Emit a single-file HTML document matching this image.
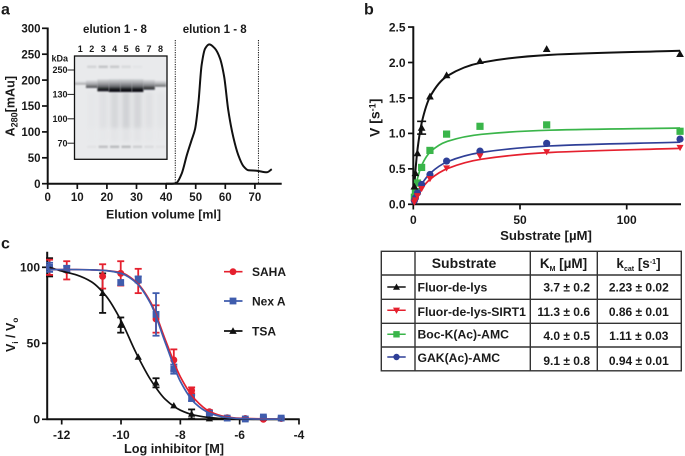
<!DOCTYPE html>
<html lang="en">
<head>
<meta charset="utf-8">
<title>Enzyme purification and kinetics figure</title>
<style>
html,body{margin:0;padding:0;background:#fff;width:685px;height:456px;overflow:hidden}
svg{display:block;font-family:"Liberation Sans",sans-serif;font-weight:bold;fill:#1a1a1a;filter:blur(0.35px)}
</style>
</head>
<body>
<svg id="fig" xmlns="http://www.w3.org/2000/svg" width="685" height="456" viewBox="0 0 685 456">
<defs>
<filter id="b1" x="-30%" y="-60%" width="160%" height="220%"><feGaussianBlur stdDeviation="0.9"/></filter>
<filter id="b2" x="-40%" y="-30%" width="180%" height="160%"><feGaussianBlur stdDeviation="1.8"/></filter>
<linearGradient id="bandFade" x1="0" y1="0" x2="0" y2="1">
<stop offset="0" stop-color="#6a6c72" stop-opacity="0.15"/>
<stop offset="0.55" stop-color="#45474c" stop-opacity="0.75"/>
<stop offset="0.8" stop-color="#121316" stop-opacity="1"/>
<stop offset="1" stop-color="#0c0d10" stop-opacity="1"/>
</linearGradient>
</defs>
<g id="root"></g>
</svg>
<script>
// ---- panel a data ----
const aXTicks = [0,10,20,30,40,50,60,70];
const aYTicks = [0,50,100,150,200,250,300];
const chromVolume = [40,42,43,43.6,45.3,47,48.6,49.8,50.9,52,53.2,54.6,56.5,58.2,59.6,61,62.7,64.4,66.1,67.8,70.6,74,75.7];
const chromAbs = [0,0,0.5,2,20,55,84,106,155,229,261,269,261,242,207,142,90,55,34,26,25,22,28];
const fractionBounds = [43.1,71.2];
const gelLanes = ['1','2','3','4','5','6','7','8'];
const gelMain = [0.08,0.5,0.92,1,1,1,0.72,0.35];
const gelTop = [0,0.16,0.28,0.24,0.12,0.04,0,0];
const gelLow = [0,0.05,0.3,0.34,0.34,0.2,0.1,0.05];
const gelSmear = [0,0.03,0.1,0.2,0.26,0.22,0.1,0.05];
const gelMarkers = ['250','130','100','70'];
// ---- panel b data ----
const bXTicks = [0,50,100];
const bYTicks = [0,0.5,1,1.5,2,2.5];
const substrateConc = [0.49,0.98,1.95,3.9,7.8,15.6,31.25,62.5,125];
const vBlack = [0.25,0.44,0.72,1.08,1.52,1.82,2.02,2.19,2.12];
const vGreen = [0.1,0.18,0.3,0.52,0.76,0.99,1.1,1.12,1.03];
const vBlue = [0.05,0.09,0.16,0.28,0.42,0.61,0.75,0.86,0.92];
const vRed = [0.03,0.06,0.12,0.22,0.36,0.51,0.68,0.74,0.80];
const fitConc = [0,0.5,1,2,4,8,16,32,64,125];
const fitBlack = [0,0.265,0.474,0.782,1.158,1.525,1.811,1.999,2.108,2.166];
const fitGreen = [0,0.123,0.222,0.37,0.555,0.74,0.888,0.987,1.045,1.076];
const fitBlue = [0,0.05,0.093,0.169,0.287,0.44,0.6,0.732,0.823,0.876];
const fitRed = [0,0.04,0.07,0.129,0.225,0.356,0.504,0.636,0.731,0.789];
// ---- panel c data ----
const cXTicks = [-12,-10,-8,-6,-4];
const cYTicks = [0,50,100];
const logInhibitor = [-12.41,-11.83,-10.62,-10.01,-9.42,-8.82,-8.22,-7.62,-7.02,-6.42,-5.81,-5.2,-4.6];
const sahaValues = [100,98,94,96,91,66,39,19,5,1,0.5,0,0.5];
const sahaErrors = [5,6,8,8,8,9,7,2,1,0.5,0.5,0.5,0.5];
const nexValues = [100,99,null,90,92,69,33,14,4,0.8,0.2,1.5,0.8];
const nexErrors = [3,2,0,0,2,14,3,2,1,0.5,0.5,0.5,0.5];
const tsaValues = [100,null,83,62,41,24,9,3.5,0.5,null,null,null,null];
const tsaErrors = [6,0,13,5,0,3,0,3,0,0,0,0,0];
const curveLog = [-12.41,-12,-11.5,-11,-10.5,-10,-9.5,-9,-8.5,-8,-7.5,-7,-6.5,-6,-5,-4.6];
const sahaCurve = [98.5,98.5,98.5,98.3,97.8,96.5,90.5,77,52,28,13,5,1.8,0.7,0.2,0.1];
const nexCurve = [98.5,98.5,98.5,98.3,97.8,96,90,76,50,25,10.5,4,1.4,0.5,0.1,0.1];
const tsaCurve = [100,97.5,95,90.5,81,65,44,26,13,6,2.6,1.1,0.4,0.2,0,0];
// ---- table data ----
const tableNames = ['Fluor-de-lys','Fluor-de-lys-SIRT1','Boc-K(Ac)-AMC','GAK(Ac)-AMC'];
const tableKm = ['3.7 ± 0.2','11.3 ± 0.6','4.0 ± 0.5','9.1 ± 0.8'];
const tableKcat = ['2.23 ± 0.02','0.86 ± 0.01','1.11 ± 0.03','0.94 ± 0.01'];

const NS = 'http://www.w3.org/2000/svg';
const root = document.getElementById('root');
const RED = '#e5202e', BLUE = '#2f3f97', GREEN = '#3ab54a', CBLUE = '#3f5cad', BLK = '#111';

function el(tag, attrs, parent) {
  const e = document.createElementNS(NS, tag);
  for (const k in attrs) e.setAttribute(k, attrs[k]);
  (parent || root).appendChild(e);
  return e;
}
function group(name, parent) {
  const g = el('g', {}, parent);
  
  
  return g;
}
function text(str, x, y, size, anchor, parent, name) {
  const t = el('text', {x: x, y: y, 'font-size': size, 'text-anchor': anchor || 'start'}, parent);
  t.textContent = str;
  
  
  return t;
}
function line(x1, y1, x2, y2, stroke, w, parent) {
  return el('line', {x1: x1, y1: y1, x2: x2, y2: y2, stroke: stroke, 'stroke-width': w}, parent);
}
// monotone cubic path through pixel points
function smoothPath(pts) {
  const n = pts.length, d = [], m = [];
  for (let i = 0; i < n - 1; i++) d.push((pts[i+1][1] - pts[i][1]) / (pts[i+1][0] - pts[i][0]));
  m[0] = d[0]; m[n-1] = d[n-2];
  for (let i = 1; i < n - 1; i++) {
    if (d[i-1] * d[i] <= 0) { m[i] = 0; continue; }
    const h0 = pts[i][0] - pts[i-1][0], h1 = pts[i+1][0] - pts[i][0];
    m[i] = 3 * (h0 + h1) / ((2*h1 + h0) / d[i-1] + (h1 + 2*h0) / d[i]);
  }
  let s = 'M' + pts[0][0].toFixed(2) + ' ' + pts[0][1].toFixed(2);
  for (let i = 0; i < n - 1; i++) {
    const h = (pts[i+1][0] - pts[i][0]) / 3;
    s += 'C' + (pts[i][0] + h).toFixed(2) + ' ' + (pts[i][1] + h * m[i]).toFixed(2) + ' ' +
         (pts[i+1][0] - h).toFixed(2) + ' ' + (pts[i+1][1] - h * m[i+1]).toFixed(2) + ' ' +
         pts[i+1][0].toFixed(2) + ' ' + pts[i+1][1].toFixed(2);
  }
  return s;
}
function curve(xs, ys, fx, fy, stroke, w, parent, name) {
  const p = el('path', {d: smoothPath(xs.map((v, i) => [fx(v), fy(ys[i])])), fill: 'none', stroke: stroke, 'stroke-width': w, 'stroke-linejoin': 'round'}, parent);
  
  
  return p;
}
function marker(kind, x, y, r, fill, parent, name) {
  let m;
  if (kind === 'circle') m = el('circle', {cx: x, cy: y, r: r, fill: fill}, parent);
  else if (kind === 'square') m = el('rect', {x: x - r, y: y - r, width: 2*r, height: 2*r, fill: fill}, parent);
  else if (kind === 'up') m = el('polygon', {points: (x) + ',' + (y - r*1.1) + ' ' + (x + r*1.1) + ',' + (y + r*0.85) + ' ' + (x - r*1.1) + ',' + (y + r*0.85), fill: fill}, parent);
  else m = el('polygon', {points: (x) + ',' + (y + r*1.1) + ' ' + (x + r*1.1) + ',' + (y - r*0.85) + ' ' + (x - r*1.1) + ',' + (y - r*0.85), fill: fill}, parent);
  
  
  return m;
}
function errorBar(x, y0, y1, color, w, capW, parent) {
  const g = el('g', {}, parent);
  
  
  line(x, y0, x, y1, color, w, g);
  line(x - capW, y0, x + capW, y0, color, w, g);
  line(x - capW, y1, x + capW, y1, color, w, g);
}

// panel letters
text('a', 1, 14.5, 16, 'start', root, 'panel-label-a');
text('b', 364, 14.5, 16, 'start', root, 'panel-label-b');
text('c', 1, 248.5, 16, 'start', root, 'panel-label-c');

/* ---------- PANEL A ---------- */
const pa = group('panel-a-chromatogram');
const ax = v => 47.7 + v * 2.96;
const ay = v => 183.7 - v * 0.518;
const paAxes = group('panel-a-axes', pa);
line(47.7, 27.5, 47.7, 184.5, BLK, 2, paAxes);
line(47, 183.7, 281.7, 183.7, BLK, 2, paAxes);
aXTicks.forEach(v => {
  line(ax(v), 183.7, ax(v), 189, BLK, 1.7, paAxes);
  text(String(v), ax(v), 201, 11.5, 'middle', paAxes, 'x-tick-label');
});
aYTicks.forEach(v => {
  line(42, ay(v), 47.7, ay(v), BLK, 1.7, paAxes);
  text(String(v), 40.5, ay(v) + 4.2, 11.5, 'end', paAxes, 'y-tick-label');
});
text('Elution volume [ml]', 163.5, 218.5, 12.4, 'middle', paAxes, 'x-axis-title');
const aYT = el('text', {transform: 'translate(14.5,136.5) rotate(-90)', 'font-size': 12.6}, paAxes);


aYT.innerHTML = 'A<tspan font-size="9" dy="3">280</tspan><tspan dy="-3">[mAu]</tspan>';
text('elution 1 - 8', 115, 33, 11.5, 'middle', pa, 'gel-title');
text('elution 1 - 8', 214.7, 33, 11.5, 'middle', pa, 'peak-title');
fractionBounds.forEach(v => {
  const d = line(ax(v), 40, ax(v), 183, '#111', 1, pa);
  d.setAttribute('stroke-dasharray', '1.2 1.2');
  
  
});
curve(chromVolume, chromAbs, ax, ay, BLK, 2, pa, 'chromatogram-trace');

// gel
const gel = group('gel-image', pa);
el('rect', {x: 74.5, y: 56, width: 92.5, height: 103.3, fill: '#e9eaec'}, gel);
const laneX = i => 80.3 + i * 11.45;
const lanes = el('g', {}, gel);
gelSmear.forEach((v, i) => {
  el('rect', {x: laneX(i) - 4, y: 92, width: 8, height: 36, fill: '#8c8f95', opacity: v, filter: 'url(#b2)'}, lanes);
  el('rect', {x: laneX(i) - 4, y: 128, width: 8, height: 14, fill: '#a8abb0', opacity: v * 0.4, filter: 'url(#b2)'}, lanes);
});
gelTop.forEach((v, i) => {
  if (v > 0) el('rect', {x: laneX(i) - 4.6, y: 65.5, width: 9.2, height: 2.6, fill: '#66686c', opacity: v, filter: 'url(#b1)'}, lanes);
});
gelLow.forEach((v, i) => {
  if (v > 0) el('rect', {x: laneX(i) - 4.6, y: 145.5, width: 9.2, height: 2.6, fill: '#66686c', opacity: v, filter: 'url(#b1)'}, lanes);
});
gelMain.forEach((v, i) => {
  const h = 2.5 + v * 10.5;
  const bottom = 92 - (1 - v) * 8;
  el('rect', {x: laneX(i) - 5.8, y: bottom - h, width: 11.6, height: h, fill: 'url(#bandFade)', opacity: 0.25 + v * 0.75, filter: 'url(#b1)'}, lanes);
});
el('rect', {x: 74.5, y: 56, width: 92.5, height: 103.3, fill: 'none', stroke: '#111', 'stroke-width': 1.3}, gel);
gelLanes.forEach((s, i) => text(s, laneX(i), 52, 9, 'middle', gel, 'lane-label'));
text('kDa', 51.5, 61.7, 9, 'start', gel, 'kda-label');
gelMarkers.forEach((s, i) => {
  const y = 70 + i * 24.4;
  text(s, 67.5, y + 3.2, 9, 'end', gel, 'marker-label');
  line(67.5, y, 74, y, '#222', 1, gel);
});

/* ---------- PANEL B ---------- */
const pb = group('panel-b-kinetics');
const bx = v => 413.3 + v * 2.134;
const by = v => 204.3 - v * 70.9;
const pbAxes = group('panel-b-axes', pb);
line(413.3, 26.3, 413.3, 205, BLK, 2, pbAxes);
line(412.5, 204.3, 681, 204.3, BLK, 2, pbAxes);
bXTicks.forEach(v => {
  line(bx(v), 204.3, bx(v), 209.5, BLK, 1.7, pbAxes);
  text(String(v), bx(v), 224, 12, 'middle', pbAxes, 'x-tick-label');
});
bYTicks.forEach(v => {
  line(408, by(v), 413.3, by(v), BLK, 1.7, pbAxes);
  text(v.toFixed(1), 405.5, by(v) + 4.3, 12, 'end', pbAxes, 'y-tick-label');
});
text('Substrate [µM]', 546, 240, 13.2, 'middle', pbAxes, 'x-axis-title');
const bYT = el('text', {transform: 'translate(379.5,137) rotate(-90)', 'font-size': 14}, pbAxes);


bYT.innerHTML = 'V [s<tspan font-size="9" dy="-4">-1</tspan><tspan dy="4">]</tspan>';
curve(fitConc, fitGreen, bx, by, GREEN, 1.7, pb, 'fit-boc-k-ac-amc');
curve(fitConc, fitBlue, bx, by, BLUE, 1.7, pb, 'fit-gak-ac-amc');
curve(fitConc, fitRed, bx, by, RED, 1.7, pb, 'fit-fluor-de-lys-sirt1');
curve(fitConc, fitBlack, bx, by, BLK, 2, pb, 'fit-fluor-de-lys');
substrateConc.forEach((c, i) => {
  marker('square', bx(c), by(vGreen[i]), 3.6, GREEN, pb, 'point-boc-k-ac-amc');
});
substrateConc.forEach((c, i) => {
  marker('circle', bx(c), by(vBlue[i]), 3.6, BLUE, pb, 'point-gak-ac-amc');
});
substrateConc.forEach((c, i) => {
  marker('down', bx(c), by(vRed[i]), 3.2, RED, pb, 'point-fluor-de-lys-sirt1');
});
substrateConc.forEach((c, i) => {
  marker('up', bx(c), by(vBlack[i]), 3.5, BLK, pb, 'point-fluor-de-lys');
});
errorBar(bx(substrateConc[3]), by(vBlack[3] + 0.09), by(vBlack[3] - 0.09), BLK, 1.6, 4.5, pb);

/* ---------- TABLE ---------- */
const tb = group('kinetics-table', root);
el('rect', {x: 381.3, y: 251.3, width: 300, height: 119.5, fill: '#fff', stroke: '#333', 'stroke-width': 1.4}, tb);
[415, 530.3, 597.3].forEach(x => line(x, 251, x, 371, '#333', 1.4, tb));
[275, 299.3, 323.3, 347].forEach(y => line(381, y, 681, y, '#333', 1.4, tb));
text('Substrate', 464, 268, 14, 'middle', tb, 'table-header-substrate');
const kmH = el('text', {x: 563.5, y: 268, 'font-size': 13.5, 'text-anchor': 'middle'}, tb);


kmH.innerHTML = 'K<tspan font-size="7" dy="3">M</tspan><tspan dy="-3"> [µM]</tspan>';
const kcH = el('text', {x: 638.5, y: 268, 'font-size': 13.5, 'text-anchor': 'middle'}, tb);


kcH.innerHTML = 'k<tspan font-size="7" dy="3">cat</tspan><tspan dy="-3"> [s</tspan><tspan font-size="7" dy="-4">-1</tspan><tspan dy="4">]</tspan>';
const rowY = [291.5, 316, 340, 365];
const nameY = [291.5, 316, 338.5, 362];
const keyY = [287, 310.3, 334.3, 357];
const keyColor = [BLK, RED, GREEN, BLUE];
const keyShape = ['up', 'down', 'square', 'circle'];
tableNames.forEach((s, i) => {
  text(s, 417.5, nameY[i], 12.2, 'start', tb, 'table-substrate-name');
  text(tableKm[i], 590, rowY[i], 12, 'end', tb, 'table-km-value');
  text(tableKcat[i], 638.8, rowY[i], 12, 'middle', tb, 'table-kcat-value');
  line(387.3, keyY[i], 405.7, keyY[i], keyColor[i], 1.5, tb);
  marker(keyShape[i], 396.5, keyY[i], 3.2, keyColor[i], tb, 'table-key-marker');
});

/* ---------- PANEL C ---------- */
const pc = group('panel-c-inhibition');
const cx = v => 61.7 + (v + 12) * 29.66;
const cy = v => 419.3 - v * 1.52;
const pcAxes = group('panel-c-axes', pc);
line(47.2, 251.7, 47.2, 420, BLK, 2, pcAxes);
line(46.5, 419.3, 299.7, 419.3, BLK, 2, pcAxes);
cXTicks.forEach(v => {
  line(cx(v), 419.3, cx(v), 424.5, BLK, 1.7, pcAxes);
  text(String(v), cx(v), 439, 12, 'middle', pcAxes, 'x-tick-label');
});
cYTicks.forEach(v => {
  line(42, cy(v), 47.2, cy(v), BLK, 1.7, pcAxes);
  text(String(v), 40, cy(v) + 4.3, 12, 'end', pcAxes, 'y-tick-label');
});
text('Log inhibitor [M]', 174, 453, 12.7, 'middle', pcAxes, 'x-axis-title');
const cYT = el('text', {transform: 'translate(15,352) rotate(-90)', 'font-size': 12.5}, pcAxes);


cYT.innerHTML = 'V<tspan font-size="8" dy="3">i</tspan><tspan dy="-3"> / V</tspan><tspan font-size="8" dy="3">o</tspan>';

function drawSeries(values, errors, color, kind, size, name) {
  const g = group(name, pc);
  logInhibitor.forEach((x, i) => {
    if (values[i] === null) return;
    if (errors[i] > 0) errorBar(cx(x), cy(values[i] + errors[i]), cy(values[i] - errors[i]), color, 1.8, 3.5, g);
    marker(kind, cx(x), cy(values[i]), size, color, g, name + '-point');
  });
}
drawSeries(tsaValues, tsaErrors, BLK, 'up', 3.3, 'series-tsa');
drawSeries(sahaValues, sahaErrors, RED, 'circle', 3.5, 'series-saha');
drawSeries(nexValues, nexErrors, CBLUE, 'square', 3.4, 'series-nex-a');
curve(curveLog, tsaCurve, cx, cy, BLK, 1.7, pc, 'fit-tsa');
curve(curveLog, sahaCurve, cx, cy, RED, 1.7, pc, 'fit-saha');
curve(curveLog, nexCurve, cx, cy, CBLUE, 1.7, pc, 'fit-nex-a');

const legend = group('panel-c-legend', pc);
const legendNames = ['SAHA', 'Nex A', 'TSA'];
const legendColors = [RED, CBLUE, BLK];
const legendShapes = ['circle', 'square', 'up'];
const legendY = [271.7, 301, 331];
legendNames.forEach((s, i) => {
  line(224, legendY[i], 242.5, legendY[i], legendColors[i], 1.7, legend);
  marker(legendShapes[i], 233, legendY[i], 3.4, legendColors[i], legend, 'legend-marker');
  text(s, 252, legendY[i] + 4.5, 12, 'start', legend, 'legend-entry');
});
</script>
</body>
</html>
